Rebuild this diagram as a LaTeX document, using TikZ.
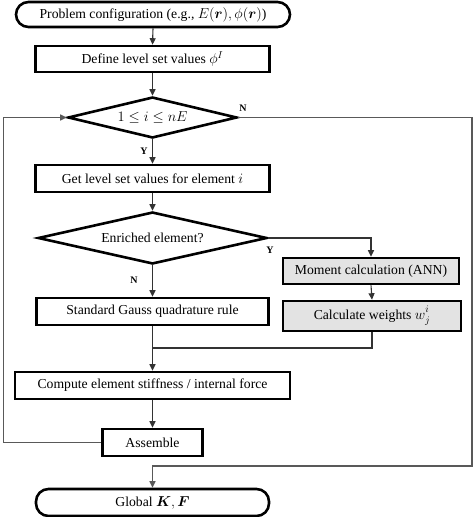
\documentclass[tikz,border=0pt]{standalone}
\usepackage{amsmath}
\usepackage{bm}
\usepackage{fontspec}
\setmainfont{Liberation Serif}
\usetikzlibrary{arrows.meta,shapes.geometric}
\begin{document}
\begin{tikzpicture}[x=1pt,y=-1pt,
  font=\fontsize{13.7}{15}\selectfont,
  box/.style={draw=black,line width=2.6pt,rectangle,inner sep=0pt,align=center},
  term/.style={box,rounded corners=12.5pt},
  shaded/.style={box,fill=black!11},
  decision/.style={draw=black,line width=2.6pt,diamond,shape aspect=4,inner sep=0pt},
  conn/.style={draw=black!80,line width=1.1pt},
  arr/.style={conn,-{Triangle[length=6.5pt,width=6pt]}},
  loopline/.style={draw=black!65,line width=1.4pt},
  yn/.style={font=\fontsize{10}{10}\selectfont\bfseries,inner sep=0pt}]
\useasboundingbox (0,0) rectangle (474,517);
\node[term,minimum width=274pt,minimum height=25pt] (top) at (153,14.5) {Problem configuration (e.g., $E(\bm{r}),\phi(\bm{r})$)};
\node[box,minimum width=234pt,minimum height=26pt] (def) at (152.5,59) {Define level set values $\phi^{I}$};
\node[decision,minimum width=169pt,minimum height=41pt] (d1) at (152.5,117.5) {$1\leq i\leq nE$};
\node[box,minimum width=234pt,minimum height=27pt] (get) at (152.5,178.5) {Get level set values for element $i$};
\node[decision,minimum width=229pt,minimum height=52pt] (d2) at (152.5,238) {Enriched element?};
\node[shaded,minimum width=176pt,minimum height=26pt] (mom) at (371,271) {Moment calculation (ANN)};
\node[shaded,minimum width=178pt,minimum height=30pt] (calc) at (372,316) {Calculate weights $w^{\raisebox{1pt}{$\scriptstyle i$}}_{\raisebox{-1pt}{$\scriptstyle j$}}$};
\node[box,minimum width=232pt,minimum height=27pt] (gauss) at (152.5,311.5) {Standard Gauss quadrature rule};
\node[box,minimum width=275pt,minimum height=27pt] (comp) at (152.5,385.5) {Compute element stiffness / internal force};
\node[box,minimum width=100pt,minimum height=27pt] (asm) at (152.5,442.5) {Assemble};
\node[term,minimum width=233pt,minimum height=27pt] (glob) at (152.5,502.5) {Global $\bm{K},\bm{F}$};
\coordinate (nr) at (472,117.5);
\coordinate (nb) at (472,466);
\coordinate (nm) at (152.5,466);
\coordinate (yr) at (371,238);
\coordinate (mg) at (152.5,348);
\coordinate (mc) at (372,348);
\coordinate (lb) at (3.5,442.5);
\coordinate (lt) at (3.5,117.5);
\draw[arr] (top.south) -- (def.north);
\draw[arr] (def.south) -- (d1.north);
\draw[arr] (d1.south) -- (get.north);
\draw[arr] (get.south) -- (d2.north);
\draw[arr] (d2.east) -- (yr) -- (mom.north);
\draw[arr] (d2.south) -- (gauss.north);
\draw[arr] (mom.south) -- (calc.north);
\draw[arr] (gauss.south) -- (comp.north);
\draw[conn] (calc.south) -- (mc) -- (mg);
\draw[arr] (comp.south) -- (asm.north);
\draw[loopline,-{Triangle[length=6.5pt,width=6pt]}] (asm.west) -- (lb) -- (lt) -- (d1.west);
\draw[loopline,-{Triangle[length=6.5pt,width=6pt]}] (d1.east) -- (nr) -- (nb) -- (nm) -- (glob.north);
\node[yn] (ly1) at (144,151) {Y};
\node[yn] (ln1) at (243,108) {N};
\node[yn] (ly2) at (270,250) {Y};
\node[yn] (ln2) at (134,280) {N};
\end{tikzpicture}
\end{document}
